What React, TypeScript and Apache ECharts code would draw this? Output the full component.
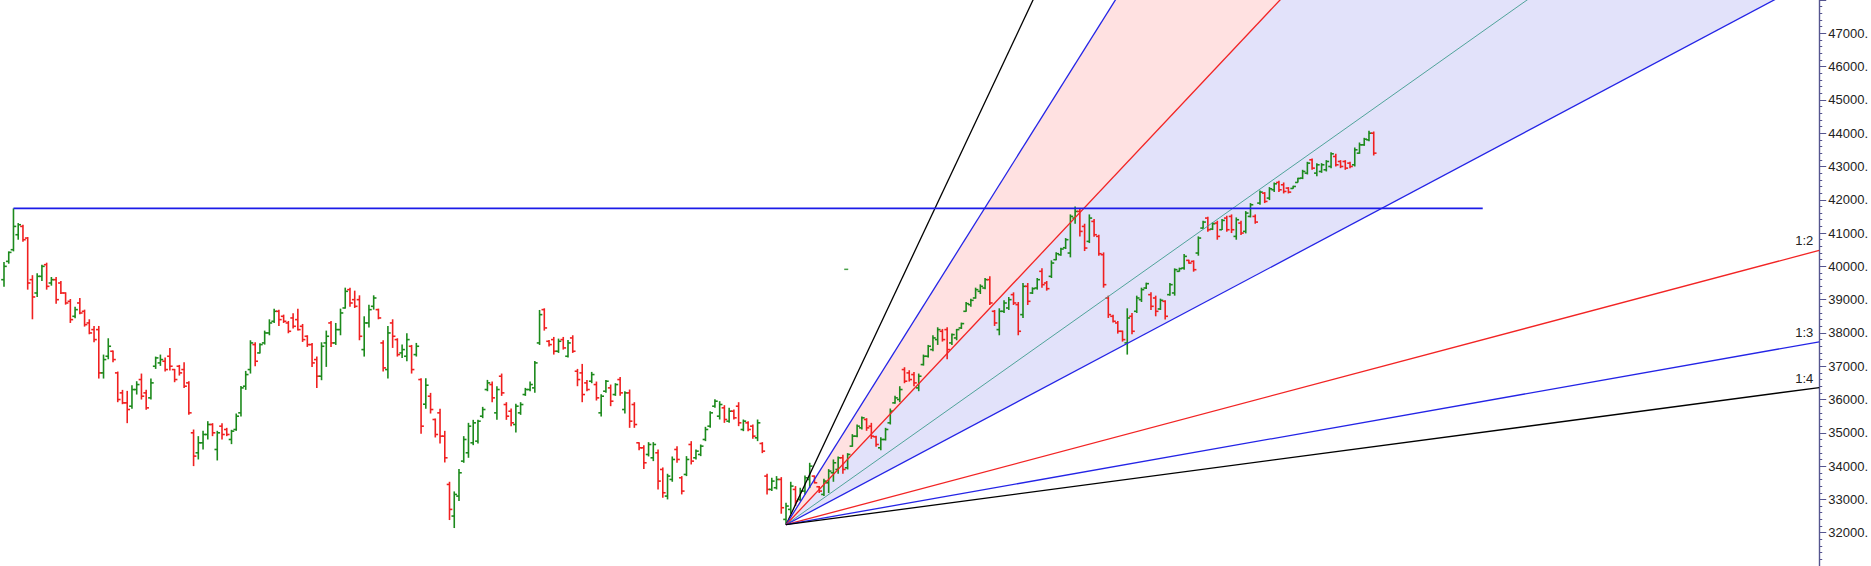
import { useEffect, useRef } from 'react';
import * as echarts from 'echarts';

// ---------- DATA: daily bars [open, high, low, close] ----------
const ohlcPart1: number[][] = [
  [39600, 40130, 39390, 40000], [40150, 40450, 40080, 40420], [40500, 41740, 40450, 41200], [40950, 41300, 40800, 41250],
  [41200, 41250, 40740, 40800], [40850, 40880, 39300, 39500], [39600, 39735, 38410, 39080], [39200, 39790, 39080, 39700],
  [39700, 40050, 39560, 40000], [40050, 40110, 39300, 39400], [39500, 39680, 39420, 39600], [39600, 39680, 38880, 39000],
  [39500, 39560, 39170, 39200], [39200, 39220, 38850, 38900], [38950, 39020, 38300, 38400], [38500, 38790, 38440, 38700],
  [38900, 39050, 38560, 38600], [38650, 38700, 38190, 38250], [38300, 38410, 37960, 38000], [38100, 38210, 37720, 37800],
  [38100, 38210, 36630, 36800], [36800, 37350, 36630, 37200], [37300, 37840, 37210, 37600], [37450, 37470, 37120, 37200],
  [36800, 36840, 35920, 36000], [36200, 36290, 35860, 35900], [35900, 36260, 35290, 35700], [35800, 36430, 35720, 36300],
  [36300, 36550, 36150, 36450], [36600, 36780, 36000, 36100], [36200, 36290, 35690, 35750], [36050, 36630, 36000, 36500],
  [37000, 37290, 36920, 37250], [37100, 37350, 37010, 37200], [37150, 37260, 36840, 36900], [37300, 37550, 36870, 37000],
  [36900, 36920, 36520, 36600], [37000, 37040, 36720, 36800], [36900, 37120, 36350, 36400], [36500, 36550, 35545, 35600],
];
const ohlcPart2: number[][] = [
  [35000, 35100, 34000, 34300], [34400, 34900, 34200, 34700], [34700, 35060, 34500, 34950], [34950, 35350, 34800, 35250],
  [35250, 35290, 34900, 35000], [34500, 35060, 34170, 35000], [35200, 35290, 34800, 34950], [35100, 35150, 34900, 34950],
  [34800, 35090, 34660, 35050], [35100, 35580, 35060, 35500], [35600, 36410, 35490, 36350], [36400, 36860, 36290, 36750],
  [36900, 37780, 36780, 37700], [37650, 37720, 37000, 37150], [37400, 37690, 37380, 37650], [37700, 38070, 37650, 38000],
  [38000, 38410, 37930, 38300], [38350, 38730, 38300, 38650], [38650, 38700, 38210, 38400], [38500, 38550, 38300, 38350],
  [38300, 38360, 37990, 38050], [38450, 38590, 38130, 38200], [38400, 38730, 38070, 38100], [38200, 38270, 37730, 37800],
  [37900, 37930, 37580, 37650], [37650, 37700, 36980, 37100], [37200, 37290, 36350, 36700], [36700, 37720, 36580, 37600],
  [37700, 38070, 36980, 37900], [38300, 38360, 37580, 37700], [37700, 38300, 37640, 38100], [38100, 38730, 37930, 38600],
  [38750, 39360, 38730, 39250], [39300, 39360, 38790, 38900], [39000, 39270, 38750, 38800], [39000, 39130, 37780, 37900],
  [37500, 38500, 37290, 38300], [38300, 38850, 38160, 38700], [38800, 39130, 38700, 39050], [38700, 38730, 38410, 38450],
  [37700, 37780, 36840, 36950], [36900, 38210, 36630, 38000], [38300, 38410, 37550, 37900], [37800, 37840, 37290, 37350],
  [37400, 37650, 37250, 37500], [37300, 37990, 37150, 37800], [37600, 37640, 36780, 36900], [37350, 37700, 37290, 37600],
];
const ohlcPart3: number[][] = [
  [36600, 36640, 34970, 35200], [35860, 36640, 35720, 36430], [36100, 36200, 35580, 35700], [35400, 35430, 34860, 34950],
  [35600, 35720, 34680, 34900], [34900, 35060, 34110, 34250], [33450, 33530, 32380, 32700], [32500, 33240, 32140, 33150],
  [33100, 33910, 32950, 33800], [34150, 34900, 34100, 34800], [34400, 35300, 34250, 35200], [34700, 35390, 34630, 35300],
  [34750, 35390, 34680, 35350], [35500, 35780, 35440, 35700], [36300, 36590, 36250, 36500], [36450, 36540, 35920, 36050],
  [35600, 36400, 35390, 36300], [36700, 36780, 36110, 36200], [35850, 35920, 35390, 35500], [35650, 35730, 35200, 35300],
  [35250, 35870, 35010, 35800], [35600, 35920, 35540, 35850], [36150, 36350, 36110, 36300], [36300, 36540, 36250, 36450],
  [36350, 37160, 36200, 37100], [37700, 38690, 37640, 38550], [38700, 38740, 38070, 38150], [37750, 37790, 37590, 37650],
  [37800, 37880, 37350, 37450], [37450, 37830, 37400, 37750], [37800, 37880, 37500, 37550], [37300, 37790, 37260, 37700],
  [37850, 37930, 37400, 37450], [36850, 36920, 36400, 36600], [36800, 37070, 35920, 36150], [36500, 36590, 36250, 36300],
  [36550, 36830, 36490, 36750], [36450, 36540, 35970, 36050], [35600, 36160, 35490, 36100], [36250, 36590, 36200, 36550],
  [36350, 36450, 35800, 35950], [36150, 36490, 36110, 36450], [36600, 36680, 36110, 36200], [35700, 36250, 35580, 36200],
  [36200, 36300, 35150, 35350], [35850, 35920, 35150, 35250],
];
const ohlcPart4: number[][] = [
  [34700, 34720, 34480, 34550], [34550, 34630, 33910, 34100], [34350, 34720, 34290, 34650], [34250, 34720, 34150, 34650],
  [34400, 34500, 33300, 33550], [33900, 33960, 33050, 33200], [33100, 33770, 33000, 33700], [33600, 34290, 33530, 34200],
  [34500, 34600, 34100, 34200], [33650, 33700, 33150, 33250], [33750, 34300, 33700, 34200], [34650, 34750, 34050, 34150],
  [34250, 34500, 34200, 34450], [34350, 34650, 34300, 34600], [34800, 35180, 34750, 35100], [35200, 35650, 35150, 35600],
  [35800, 36010, 35750, 35950], [35500, 35950, 35400, 35850], [35750, 35830, 35300, 35400], [35350, 35750, 35300, 35650],
  [35650, 35700, 35400, 35450], [35800, 35920, 35200, 35300], [35100, 35400, 35050, 35350], [35300, 35350, 35050, 35100],
  [35200, 35250, 34820, 34900], [34850, 35400, 34750, 35300], [34680, 34720, 34390, 34450], [33700, 33770, 33150, 33300],
  [33300, 33650, 33250, 33550], [33350, 33700, 33300, 33600], [33600, 33670, 32570, 32750], [32400, 32900, 32240, 32800],
];
const ohlcPart5: number[][] = [
  [32700, 33530, 32570, 33400], [33300, 33400, 32800, 32950], [33000, 33350, 32950, 33250], [33250, 33720, 33150, 33650],
  [33600, 34100, 33340, 34000], [33700, 33720, 33480, 33500], [33380, 33400, 33190, 33250], [33150, 33620, 33100, 33550],
  [33500, 33910, 33190, 33850], [33800, 34200, 33530, 34100], [33900, 34290, 33770, 34250], [34250, 34340, 33770, 33900],
  [33950, 34390, 33900, 34350], [34600, 34960, 34580, 34900], [34900, 35250, 34870, 35200], [35150, 35490, 35100, 35450],
  [35400, 35440, 35060, 35150], [35200, 35300, 34820, 34900], [34880, 34910, 34580, 34650], [34550, 34870, 34480, 34800],
  [34800, 35150, 34770, 35100], [35300, 35730, 35250, 35650], [35900, 36110, 35870, 36050], [36000, 36400, 35920, 36300],
  [36900, 36970, 36490, 36550], [36800, 36880, 36540, 36600], [36750, 36830, 36400, 36500], [36350, 36780, 36250, 36700],
  [37050, 37350, 37020, 37300], [37300, 37640, 37260, 37600], [37500, 37930, 37450, 37850], [37800, 38170, 37640, 38100],
  [38050, 38120, 37740, 37800], [38100, 38170, 37210, 37500], [37700, 37980, 37640, 37950], [37850, 38120, 37780, 38100],
  [38150, 38310, 38120, 38280], [38650, 38930, 38640, 38880], [38850, 39030, 38790, 38980], [39050, 39360, 39030, 39300],
  [39250, 39460, 39170, 39400], [39350, 39650, 39310, 39600], [39600, 39700, 38840, 38900], [38650, 38690, 38210, 38300],
  [38100, 38740, 37930, 38650], [38650, 38980, 38600, 38900], [38750, 39080, 38690, 39000], [39150, 39220, 38840, 38900],
  [38850, 38930, 37930, 38050], [38550, 39500, 38450, 39400], [39400, 39500, 38840, 38950], [39200, 39370, 39170, 39330],
  [39350, 39650, 39300, 39600], [39850, 39940, 39360, 39450], [39500, 39560, 39270, 39330], [39700, 40180, 39650, 40100],
  [40200, 40420, 40180, 40380], [40350, 40560, 40320, 40520], [40560, 40850, 40520, 40800], [40400, 41560, 40270, 41500],
  [41450, 41800, 41280, 41650], [41650, 41750, 40900, 41050], [41200, 41280, 40460, 40550], [40750, 41560, 40700, 41450],
  [41350, 41420, 40890, 40950], [40900, 40950, 40320, 40380], [40350, 40420, 39360, 39450], [39050, 39120, 38450, 38550],
  [38500, 38550, 38310, 38350], [38300, 38360, 37980, 38050], [38050, 38070, 37740, 37800], [37700, 38740, 37350, 38450],
  [38500, 38600, 37960, 38050], [38650, 39120, 38600, 39050], [39000, 39360, 38930, 39300], [39350, 39510, 39320, 39480],
];
const ohlcPart6: number[][] = [
  [39150, 39220, 38690, 38800], [39050, 39120, 38500, 38650], [38720, 39030, 38690, 38980], [38950, 38980, 38400, 38500],
  [39150, 39500, 39120, 39450], [39200, 39940, 39120, 39900], [39850, 39960, 39840, 39930], [39950, 40370, 39900, 40300],
  [40180, 40200, 40080, 40100], [40150, 40180, 39840, 39900], [40400, 40900, 40320, 40850], [41150, 41370, 41130, 41330],
  [41450, 41490, 41040, 41100], [41120, 41320, 41090, 41280], [41300, 41370, 40800, 40900], [41100, 41420, 41090, 41380],
  [41450, 41520, 41040, 41100], [41500, 41560, 41000, 41100], [40900, 41470, 40800, 41400], [41300, 41370, 40940, 41000],
  [41050, 41660, 40990, 41600], [41500, 41900, 41470, 41850], [41500, 41560, 41280, 41330], [41900, 42280, 41850, 42230],
  [42200, 42230, 41900, 41950], [42050, 42380, 41990, 42330], [42300, 42520, 42230, 42480], [42520, 42570, 42230, 42300],
  [42450, 42520, 42190, 42250], [42350, 42380, 42190, 42230], [42340, 42420, 42330, 42400], [42520, 42660, 42520, 42640],
  [42650, 42900, 42620, 42850], [42800, 43140, 42760, 43100], [43200, 43240, 42900, 42950], [42800, 43100, 42710, 43050],
  [42850, 43100, 42810, 43050], [42900, 43190, 42850, 43150], [43000, 43430, 42950, 43380], [43300, 43380, 43000, 43050],
  [43150, 43190, 42950, 43000], [43150, 43190, 42900, 42950], [43100, 43140, 42950, 43000], [43050, 43570, 43000, 43500],
  [43400, 43720, 43380, 43650], [43650, 43860, 43620, 43820], [43800, 44070, 43760, 44000], [44000, 44050, 43330, 43400],
];
const bars: number[][] = [...ohlcPart1, ...ohlcPart2, ...ohlcPart3, ...ohlcPart4, ...ohlcPart5, ...ohlcPart6];

// Gann fan
const FAN_ORIGIN_INDEX = 165;
const FAN_ORIGIN_PRICE = 32240;
const GANN_1X1 = 75.6; // price per bar
const fanLines = [
  { ratio: 4, color: '#000000', label: '' },
  { ratio: 3, color: '#2424e6', label: '' },
  { ratio: 2, color: '#f22424', label: '' },
  { ratio: 4 / 3, color: '#3f9c8f', label: '' },
  { ratio: 1, color: '#2424e6', label: '' },
  { ratio: 1 / 2, color: '#f22424', label: '1:2' },
  { ratio: 1 / 3, color: '#2424e6', label: '1:3' },
  { ratio: 1 / 4, color: '#000000', label: '1:4' },
];
const fanBands = [
  { hi: 3, lo: 2, color: '#ffe1e1' },
  { hi: 2, lo: 1, color: '#e2e2fa' },
];
const resistancePrice = 41740;
const resistanceFrom = 2;
const resistanceTo = 312;
const strayTicks: number[][] = [[177.7, 39910]];

// axes
const Y_MIN = 31000;
const Y_MAX = 48000;
const Y_STEP = 1000;
const X_MIN = -0.843;
const X_MAX = 383.0;

const GREEN = '#1c8a1c';
const RED = '#f02020';
const AXIS = '#55558f';
const FONT = 'Liberation Sans, Arial, sans-serif';

const fanPrice = (ratio: number, x: number) => FAN_ORIGIN_PRICE + ratio * GANN_1X1 * (x - FAN_ORIGIN_INDEX);

export default function App() {
  const ref = useRef<HTMLDivElement>(null);
  useEffect(() => {
    if (!ref.current) return;
    const chart = echarts.init(ref.current, undefined, { renderer: 'svg' });

    const series: any[] = [];

    fanBands.forEach((b) => {
      series.push({
        type: 'custom',
        clip: true,
        silent: true,
        z: 1,
        data: [[FAN_ORIGIN_INDEX, FAN_ORIGIN_PRICE]],
        encode: { x: 0, y: 1 },
        renderItem: (_p: any, api: any) => {
          const a = api.coord([FAN_ORIGIN_INDEX, FAN_ORIGIN_PRICE]);
          const h = api.coord([X_MAX, fanPrice(b.hi, X_MAX)]);
          const l = api.coord([X_MAX, fanPrice(b.lo, X_MAX)]);
          return { type: 'polygon', shape: { points: [a, h, l] }, style: { fill: b.color } };
        },
      });
    });

    series.push({
      type: 'custom',
      clip: true,
      silent: true,
      z: 2,
      data: bars.map((b, i) => [i, b[0], b[1], b[2], b[3]]),
      encode: { x: 0, y: [1, 2, 3, 4] },
      renderItem: (_p: any, api: any) => {
        const i = api.value(0);
        const o = api.value(1);
        const h = api.value(2);
        const l = api.value(3);
        const c = api.value(4);
        const pH = api.coord([i, h]);
        const pL = api.coord([i, l]);
        const pO = api.coord([i, o]);
        const pC = api.coord([i, c]);
        const color = c >= o ? GREEN : RED;
        const x = pH[0];
        const t = 2.8;
        const st = { stroke: color, lineWidth: 1.6 };
        return {
          type: 'group',
          children: [
            { type: 'line', shape: { x1: x, y1: pH[1], x2: x, y2: pL[1] }, style: st },
            { type: 'line', shape: { x1: x - t, y1: pO[1], x2: x, y2: pO[1] }, style: st },
            { type: 'line', shape: { x1: x, y1: pC[1], x2: x + t, y2: pC[1] }, style: st },
          ],
        };
      },
    });

    series.push({
      type: 'scatter',
      silent: true,
      z: 2,
      symbol: 'rect',
      symbolSize: [4, 1.5],
      itemStyle: { color: GREEN },
      data: strayTicks,
    });

    fanLines.forEach((f) => {
      series.push({
        type: 'line',
        silent: true,
        z: 3,
        symbol: 'none',
        clip: true,
        lineStyle: { color: f.color, width: f.ratio === 4 / 3 ? 0.9 : 1.3 },
        data: [
          [FAN_ORIGIN_INDEX, FAN_ORIGIN_PRICE],
          [X_MAX, fanPrice(f.ratio, X_MAX)],
        ],
      });
    });

    series.push({
      type: 'line',
      silent: true,
      z: 3,
      symbol: 'none',
      lineStyle: { color: '#1c1ce8', width: 1.8 },
      data: [
        [resistanceFrom, resistancePrice],
        [resistanceTo, resistancePrice],
      ],
    });

    chart.setOption({
      animation: false,
      backgroundColor: '#ffffff',
      grid: { left: 0, right: 50, top: -10.9, bottom: -15.3, containLabel: false },
      xAxis: {
        type: 'value',
        min: X_MIN,
        max: X_MAX,
        show: false,
      },
      yAxis: {
        type: 'value',
        position: 'right',
        min: Y_MIN,
        max: Y_MAX,
        interval: Y_STEP,
        axisLine: { show: true, onZero: false, lineStyle: { color: AXIS, width: 1.4 } },
        axisTick: { show: true, length: 7, lineStyle: { color: AXIS, width: 1 } },
        minorTick: { show: true, splitNumber: 5, length: 3, lineStyle: { color: AXIS, width: 1 } },
        splitLine: { show: false },
        minorSplitLine: { show: false },
        axisLabel: {
          margin: 9,
          color: '#222222',
          fontSize: 13,
          fontFamily: FONT,
          showMinLabel: false,
          showMaxLabel: false,
          formatter: (v: number) => `${v}.`,
        },
      },
      series,
    });

    // fan ratio labels, positioned through the chart's own scales
    const labelled = fanLines.filter((f) => f.label);
    chart.setOption({
      graphic: labelled.map((f) => {
        const pt = chart.convertToPixel({ gridIndex: 0 }, [X_MAX, fanPrice(f.ratio, X_MAX)]) as number[];
        return {
          type: 'text',
          x: pt[0] - 6,
          y: pt[1] - 3,
          z: 10,
          style: {
            text: f.label,
            fill: '#222222',
            font: `13px ${FONT}`,
            textAlign: 'right',
            textVerticalAlign: 'bottom',
          },
        };
      }),
    });
    return () => chart.dispose();
  }, []);
  return <div ref={ref} style={{ position: 'fixed', left: 0, top: 0, width: 1871, height: 566 }} />;
}
